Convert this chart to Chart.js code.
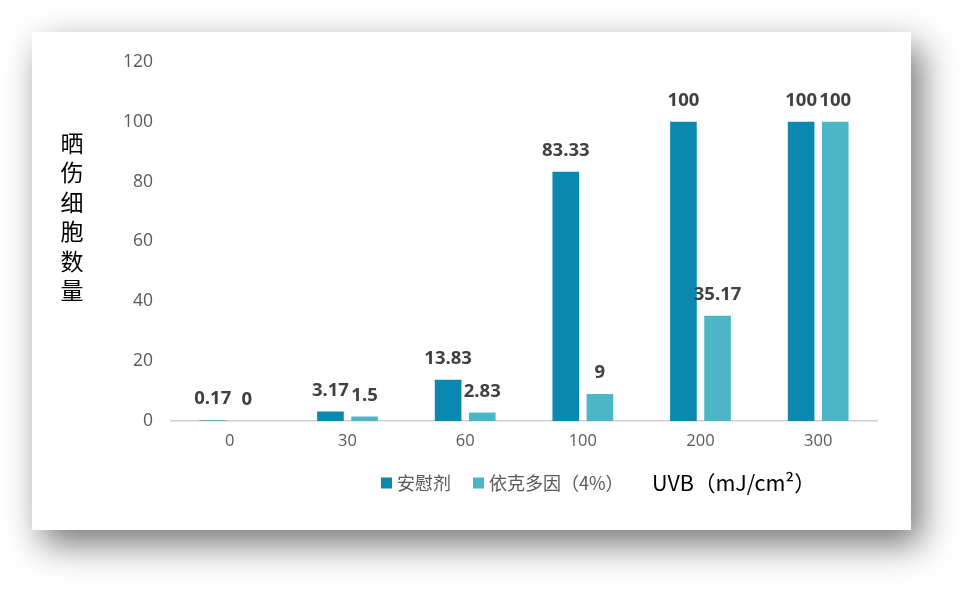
<!DOCTYPE html>
<html>
<head>
<meta charset="utf-8">
<script src="https://cdn.jsdelivr.net/npm/chart.js@4"></script>
<style>
  html, body { margin: 0; padding: 0; background: #fff; }
  body { width: 975px; height: 595px; position: relative; overflow: hidden; }
  .card {
    position: absolute; left: 32px; top: 32px; width: 879px; height: 498px;
    background: #fff; box-shadow: 10px 14px 34px rgba(0,0,0,0.55);
  }
</style>
</head>
<body>
<div class="card"><canvas id="chart" width="879" height="498"></canvas></div>
<script>
var categories = ["0", "30", "60", "100", "200", "300"];
var placebo = [0.17, 3.17, 13.83, 83.33, 100, 100];
var ectoin = [0, 1.5, 2.83, 9, 35.17, 100];
var seriesNames = ["安慰剂", "依克多因（4%）"];
var yTitle = "晒伤细胞数量";
var xTitle = "UVB（mJ/cm²）";

var numFont = '"Open Sans", "Noto Sans", sans-serif';
var cjkFont = '"Noto Sans CJK SC", "Noto Sans", sans-serif';

// value labels, stacked y title, legend + x title
var extras = {
  id: "extras",
  afterDatasetsDraw: function (chart) {
    var ctx = chart.ctx;
    ctx.save();
    ctx.font = "bold 18.5px " + numFont;
    ctx.fillStyle = "#404040";
    ctx.textAlign = "center";
    ctx.textBaseline = "alphabetic";
    chart.data.datasets.forEach(function (ds, i) {
      chart.getDatasetMeta(i).data.forEach(function (bar, j) {
        ctx.fillText(String(ds.data[j]), bar.x, bar.y - 16);
      });
    });

    // y title, one char per line
    ctx.font = "23px " + cjkFont;
    ctx.fillStyle = "#000";
    ctx.textBaseline = "middle";
    var chars = Array.from(yTitle);
    chars.forEach(function (c, k) {
      ctx.fillText(c, 40, 111 + k * 29.5);
    });

    // legend
    var ly = 451;
    var lx = 349;
    ctx.textAlign = "left";
    ctx.font = "18px " + cjkFont;
    chart.data.datasets.forEach(function (ds) {
      ctx.fillStyle = ds.backgroundColor;
      ctx.fillRect(lx, ly - 5.5, 11, 11);
      ctx.fillStyle = "#595959";
      ctx.fillText(ds.label, lx + 16, ly);
      lx += 16 + ctx.measureText(ds.label).width + 22;
    });
    ctx.font = "21.5px " + cjkFont;
    ctx.fillStyle = "#000";
    ctx.fillText(xTitle, 620, ly);
    ctx.restore();
  }
};

new Chart(document.getElementById("chart"), {
  type: "bar",
  data: {
    labels: categories,
    datasets: [
      {
        label: seriesNames[0],
        data: placebo,
        backgroundColor: "#0a88b0",
        categoryPercentage: 0.58,
        barPercentage: 0.78
      },
      {
        label: seriesNames[1],
        data: ectoin,
        backgroundColor: "#4bb6c6",
        categoryPercentage: 0.58,
        barPercentage: 0.78
      }
    ]
  },
  options: {
    responsive: false,
    animation: false,
    layout: { padding: { left: 0, top: 30, right: 34, bottom: 69 } },
    plugins: {
      legend: { display: false },
      tooltip: { enabled: false }
    },
    scales: {
      x: {
        grid: { display: false, drawTicks: false },
        border: { display: true, color: "#d0d0d0", width: 1.5 },
        ticks: { color: "#595959", font: { size: 16.5, family: numFont }, padding: 10 },
        afterFit: function (s) { s.height = 40; }
      },
      y: {
        min: 0,
        max: 120,
        grid: { display: false, drawTicks: false },
        border: { display: false },
        ticks: { stepSize: 20, color: "#595959", font: { size: 17.5, family: numFont }, padding: 18 },
        afterFit: function (s) { s.width = 139; }
      }
    }
  },
  plugins: [extras]
});
</script>
</body>
</html>
